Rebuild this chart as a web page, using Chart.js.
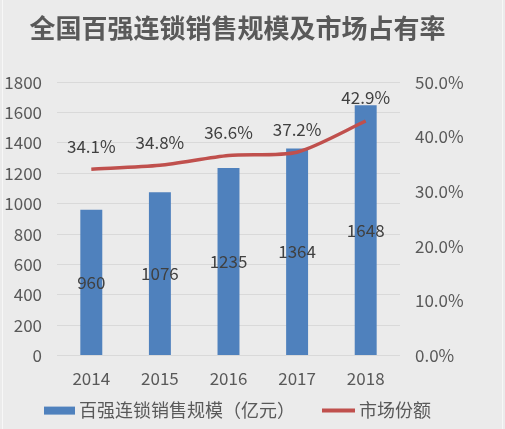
<!DOCTYPE html>
<html>
<head>
<meta charset="utf-8">
<script src="https://cdn.jsdelivr.net/npm/chart.js@4/dist/chart.umd.min.js"></script>
<style>
html,body{margin:0;padding:0;background:#ebebeb;}
#wrap{position:relative;width:505px;height:429px;}
#frame{position:absolute;left:2px;top:0;width:499px;height:429px;border-left:1px solid #f7f7f7;border-right:1px solid #f7f7f7;pointer-events:none;}
canvas{position:absolute;left:0;top:0;}
</style>
</head>
<body>
<div id="wrap">
<canvas id="c" width="505" height="429"></canvas>
<div id="frame"></div>
</div>
<script>
const title = '全国百强连锁销售规模及市场占有率';
const categories = ['2014', '2015', '2016', '2017', '2018'];
const salesScale = [960, 1076, 1235, 1364, 1648];
const marketShare = [0.341, 0.348, 0.366, 0.372, 0.429];
const seriesNames = ['百强连锁销售规模（亿元）', '市场份额'];

const FONT = '"Noto Sans CJK SC", "Noto Sans", sans-serif';
const pct = v => (v * 100).toFixed(1) + '%';

const labelPlugin = {
  id: 'valueLabels',
  afterDatasetsDraw(chart) {
    const ctx = chart.ctx;
    ctx.save();
    ctx.font = '17px ' + FONT;
    ctx.fillStyle = '#404040';
    ctx.textAlign = 'center';
    ctx.textBaseline = 'middle';
    const barMeta = chart.getDatasetMeta(1);
    barMeta.data.forEach((el, i) => {
      const cy = (el.y + el.base) / 2;
      ctx.fillText(String(salesScale[i]), el.x, cy);
    });
    const lineMeta = chart.getDatasetMeta(0);
    lineMeta.data.forEach((el, i) => {
      ctx.fillText(pct(marketShare[i]), el.x, el.y - 23);
    });
    ctx.restore();
  }
};

const legendPlugin = {
  id: 'customLegend',
  afterDraw(chart) {
    const ctx = chart.ctx;
    ctx.save();
    ctx.font = '18px ' + FONT;
    ctx.textBaseline = 'middle';
    ctx.textAlign = 'left';
    const barDs = chart.data.datasets[1];
    const lineDs = chart.data.datasets[0];
    const w1 = ctx.measureText(barDs.label).width;
    const w2 = ctx.measureText(lineDs.label).width;
    const total = 31 + 4 + w1 + 27 + 33 + 4 + w2;
    let x = (chart.width - 30) / 2 - total / 2;
    const y = chart.chartArea.bottom + 55;
    ctx.fillStyle = barDs.backgroundColor;
    ctx.fillRect(x, y - 4, 31, 8);
    x += 35;
    ctx.fillStyle = '#595959';
    ctx.fillText(barDs.label, x, y);
    x += w1 + 27;
    ctx.strokeStyle = lineDs.borderColor;
    ctx.lineWidth = 4;
    ctx.beginPath();
    ctx.moveTo(x, y);
    ctx.lineTo(x + 33, y);
    ctx.stroke();
    x += 37;
    ctx.fillText(lineDs.label, x, y);
    ctx.restore();
  }
};

new Chart(document.getElementById('c'), {
  data: {
    labels: categories,
    datasets: [
      {
        type: 'line',
        label: seriesNames[1],
        data: marketShare,
        yAxisID: 'y1',
        borderColor: '#c0504d',
        backgroundColor: '#c0504d',
        borderWidth: 3.5,
        pointRadius: 0,
        pointHoverRadius: 0,
        tension: 0.25,
        order: 0
      },
      {
        type: 'bar',
        label: seriesNames[0],
        data: salesScale,
        yAxisID: 'y',
        backgroundColor: '#4f81bd',
        borderWidth: 0,
        categoryPercentage: 1,
        barPercentage: 0.32,
        order: 1
      }
    ]
  },
  options: {
    responsive: false,
    animation: false,
    events: [],
    layout: { padding: { left: 0, right: 30, top: 0, bottom: 27 } },
    plugins: {
      title: {
        display: true,
        text: title,
        color: '#595959',
        font: { family: FONT, size: 26, weight: 'bold' },
        padding: { top: 13, bottom: 38 }
      },
      legend: { display: false },
      tooltip: { enabled: false }
    },
    scales: {
      x: {
        offset: true,
        grid: { display: false, drawTicks: false },
        border: { display: false },
        ticks: { color: '#595959', font: { family: FONT, size: 17 }, padding: 13 }
      },
      y: {
        position: 'left',
        min: 0, max: 1800,
        ticks: { stepSize: 200, color: '#595959', font: { family: FONT, size: 17 }, padding: 15, callback: v => String(v) },
        grid: { color: '#d9d9d9', lineWidth: 1, drawTicks: false },
        border: { display: false },
        afterFit(s) { s.width = 57; }
      },
      y1: {
        position: 'right',
        min: 0, max: 0.5,
        ticks: { stepSize: 0.1, color: '#595959', font: { family: FONT, size: 17 }, padding: 15, callback: v => pct(v) },
        grid: { display: false, drawTicks: false },
        border: { display: false },
        afterFit(s) { s.width = 75; }
      }
    }
  },
  plugins: [labelPlugin, legendPlugin]
});
</script>
</body>
</html>
